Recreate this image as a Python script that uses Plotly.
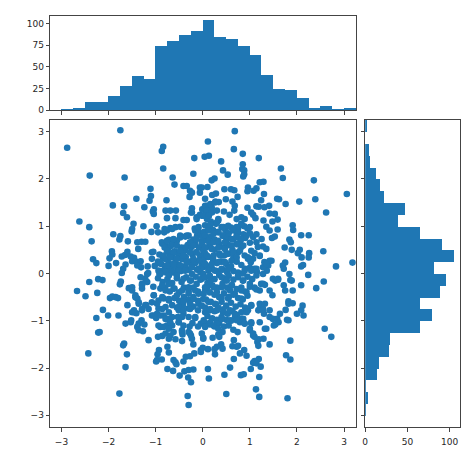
# scatter with marginal histograms

import plotly.graph_objects as go

bin_centres = [-3.125, -2.875, -2.625, -2.375, -2.125, -1.875, -1.625, -1.375, -1.125, -0.875, -0.625, -0.375, -0.125,
               0.125, 0.375, 0.625, 0.875, 1.125, 1.375, 1.625, 1.875, 2.125, 2.375, 2.625, 2.875, 3.125]
x_counts = [0, 1, 3, 9, 9, 17, 28, 40, 36, 75, 80, 87, 92, 104, 85, 82, 74, 64, 41, 24, 23, 14, 3, 5, 1, 2]
y_counts = [0, 1, 4, 1, 14, 17, 28, 30, 65, 79, 65, 89, 96, 82, 106, 91, 65, 39, 47, 22, 18, 13, 6, 5, 0, 2]

x_ticks = [-3, -2, -1, 0, 1, 2, 3]
count_ticks_top = [0, 25, 50, 75, 100]
count_ticks_right = [0, 50, 100]

scatter_points = [
    # upper left
    (-1.75, 3.03), (-2.88, 2.66), (-0.84, 2.68), (-0.87, 2.59), (-0.18, 2.44), (-2.40, 2.07), (-1.66, 2.03),
    (-0.84, 2.22), (-0.64, 2.03), (-0.20, 2.11), (-0.60, 1.88), (-1.11, 1.79), (-1.10, 1.64), (-1.13, 1.54),
    (-1.41, 1.58), (-0.77, 1.55), (-1.91, 1.44), (-1.67, 1.42), (-1.24, 1.40), (-1.04, 1.36), (-1.06, 1.31),
    (-1.04, 1.26), (-1.69, 1.28), (-1.61, 1.19), (-0.79, 1.33), (-0.69, 1.33), (-0.57, 1.33), (-0.76, 1.17),
    (-0.58, 1.17), (-2.62, 1.10), (-2.41, 0.98), (-2.36, 0.68), (-1.47, 1.05), (-1.50, 0.94), (-1.51, 0.89),
    (-1.26, 1.00), (-0.98, 1.00), (-1.09, 0.88), (-0.95, 0.87), (-1.90, 0.83), (-1.75, 0.79), (-1.77, 0.72),
    (-1.59, 0.68), (-1.39, 0.66), (-1.30, 0.67), (-1.22, 0.67), (-1.37, 0.52), (-0.81, 0.94), (-0.82, 0.87),
    (-0.69, 0.96), (-0.58, 0.98), (-0.48, 0.99), (-0.41, 1.13), (-0.34, 1.13), (-0.41, 1.85), (-0.34, 1.85),
    (-0.27, 1.75), (-0.23, 1.71), (-0.28, 1.62), (-0.06, 1.82), (-0.06, 1.71), (-0.23, 1.38), (-0.25, 1.29),
    (-0.13, 1.19), (-0.06, 1.24), (-1.93, 0.47), (-1.98, 0.32), (-1.92, 0.40), (-2.33, 0.30), (-2.26, 0.22),
    (-2.00, 0.16), (-1.84, 0.22), (-1.72, 0.36), (-1.65, 0.39), (-1.60, 0.46), (-1.53, 0.36), (-1.46, 0.33),
    (-1.50, 0.26), (-1.43, 0.26), (-1.32, 0.26), (-1.39, 0.17), (-1.64, 0.19), (-1.72, 0.01), (-1.69, 0.10),
    (-1.31, 0.13), (-1.17, 0.15), (-1.16, 0.01), (-0.92, -0.01), (-1.08, 0.45), (-1.05, 0.46), (-1.08, 0.31),
    (-1.02, 0.16), (-0.93, 0.22), (-0.86, 0.63), (-0.79, 0.63), (-0.72, 0.71),
    (-0.81, 0.55), (-0.74, 0.52), (-0.68, 0.58), (-0.63, 0.62), (-0.55, 0.69), (-0.48, 0.80), (-0.37, 0.78),
    (-0.30, 0.80), (-0.20, 0.72), (-0.12, 0.80), (-0.05, 0.85), (-0.10, 0.93), (-0.17, 0.95), (-0.92, 0.40),
    (-0.85, 0.35), (-0.78, 0.30), (-0.71, 0.42), (-0.65, 0.35), (-0.60, 0.47), (-0.52, 0.40), (-0.45, 0.55),
    (-0.38, 0.48), (-0.32, 0.60), (-0.25, 0.55), (-0.16, 0.62), (-0.08, 0.55), (-0.02, 0.68), (-0.95, 0.25),
    (-0.88, 0.20), (-0.80, 0.15), (-0.72, 0.22), (-0.66, 0.12), (-0.58, 0.25), (-0.50, 0.18), (-0.44, 0.30),
    (-0.36, 0.35), (-0.28, 0.25), (-0.22, 0.40), (-0.14, 0.45), (-0.06, 0.38), (-0.88, 0.05), (-0.78, 0.02),
    (-0.70, 0.08), (-0.62, 0.02), (-0.54, 0.10), (-0.46, 0.05), (-0.38, 0.15), (-0.30, 0.08), (-0.24, 0.16),
    (-0.16, 0.22), (-0.08, 0.28), (-0.02, 0.18), (-0.12, 0.08), (-0.05, 0.02),
    (-0.76, 0.91), (-0.65, 0.94), (-0.87, 0.66), (-0.76, 0.69), (-0.62, 0.73), (-0.48, 0.76), (-0.34, 0.80),
    (-0.16, 0.91), (-0.09, 0.98), (-0.13, 1.15), (-0.23, 1.29), (-0.01, 1.36), (-0.02, 1.22), (-0.27, 0.66),
    (-0.13, 0.73), (0.01, 0.80), (-0.20, 0.59), (-0.02, 0.62), (-0.37, 0.55), (-0.55, 0.59), (-0.76, 0.48),
    (-0.62, 0.45), (-0.48, 0.48), (-0.69, 0.34), (-0.83, 0.38), (-0.55, 0.31), (-0.41, 0.38), (-0.27, 0.45),
    (-0.13, 0.45), (0.01, 0.48), (-0.90, 0.24), (-0.76, 0.17), (-0.62, 0.20), (-0.48, 0.17), (-0.34, 0.24),
    (-0.20, 0.31), (-0.06, 0.27), (0.05, 0.34), (-0.94, 0.06), (-0.79, 0.03), (-0.65, 0.03), (-0.51, 0.06),
    (-0.37, 0.06), (-0.23, 0.13), (-0.09, 0.10), (0.01, 0.13), (-0.23, -0.01), (0.01, -0.01),
    # upper right
    (0.68, 3.01), (0.11, 2.79), (0.66, 2.63), (0.85, 2.53), (0.04, 2.47), (0.13, 2.49), (1.19, 2.44), (0.39, 2.37),
    (0.85, 2.31), (0.84, 2.21), (0.88, 2.18), (0.86, 2.05), (0.88, 2.10), (0.43, 2.18), (0.53, 2.09), (1.66, 2.22),
    (1.70, 2.02), (0.25, 2.01), (0.19, 1.97), (2.36, 1.97), (1.21, 1.93), (1.29, 1.94), (0.96, 1.82), (0.95, 1.74),
    (1.14, 1.80), (1.08, 1.75), (0.10, 1.83), (-0.02, 1.82), (0.46, 1.78), (0.60, 1.78), (0.67, 1.76), (0.74, 1.62),
    (1.30, 1.68), (0.28, 1.69), (0.20, 1.66), (3.06, 1.68), (0.05, 1.58), (0.49, 1.57), (1.24, 1.55), (1.58, 1.58),
    (1.62, 1.57), (2.05, 1.52), (2.39, 1.57), (1.76, 1.47), (0.63, 1.52), (0.68, 1.43), (0.27, 1.52), (0.34, 1.51),
    (2.62, 1.29), (0.95, 1.39), (1.14, 1.42), (1.19, 1.41), (1.31, 1.40), (1.41, 1.43), (0.08, 1.43), (0.19, 1.40),
    (0.04, 1.38), (0.45, 1.31), (0.57, 1.24), (0.67, 1.33), (1.03, 1.29), (1.07, 1.24), (1.12, 1.17), (1.42, 1.27),
    (1.53, 1.26), (1.29, 1.12), (1.48, 1.10), (1.59, 1.14), (1.35, 0.99), (1.42, 0.91), (1.59, 0.93), (1.91, 1.02),
    (1.92, 0.92), (2.09, 0.81), (2.25, 0.81), (1.47, 0.75), (1.53, 0.78), (1.84, 0.72), (1.87, 0.66), (1.74, 0.55),
    (1.89, 0.50), (2.06, 0.50), (2.02, 0.43), (2.26, 0.43), (2.25, 0.34), (2.10, 0.34), (2.56, 0.47), (2.83, 0.15),
    (3.18, 0.23), (2.09, 0.15), (2.13, 0.18), (1.75, 0.23), (1.70, 0.17), (1.72, 0.10), (2.24, -0.03), (1.84, -0.01),
    (1.49, -0.11), (1.60, -0.11), (1.46, 0.27), (1.31, 0.24), (1.39, 0.17), (1.36, 0.06), (1.28, -0.01), (1.14, 0.66),
    (1.25, 0.73), (1.28, 0.57), (1.17, 0.56), (1.35, 0.52), (1.21, 0.37), (1.10, 0.43), (0.96, 0.31), (1.07, 0.31),
    (1.02, 0.24), (0.89, 0.38), (0.82, 0.56),
    (0.05, 1.25), (0.13, 1.22), (0.20, 1.30), (0.09, 1.15), (0.17, 1.10), (0.28, 1.05), (0.33, 1.12), (0.05, 1.02),
    (0.40, 0.98), (0.48, 0.92), (0.55, 0.85), (0.60, 0.97), (0.68, 0.92), (0.75, 0.95), (0.82, 1.03), (0.88, 1.00),
    (0.95, 0.95), (1.00, 0.85), (0.72, 0.80), (0.65, 0.72), (0.50, 0.70), (0.42, 0.80), (0.33, 0.88), (0.22, 0.92),
    (0.12, 0.95), (0.03, 0.88), (0.00, 0.78), (0.08, 0.70), (0.17, 0.78), (0.25, 0.72), (0.35, 0.62), (0.45, 0.55),
    (0.55, 0.60), (0.63, 0.50), (0.72, 0.62), (0.80, 0.70), (0.90, 0.75), (1.00, 0.65), (0.07, 0.55), (0.15, 0.60),
    (0.25, 0.50), (0.35, 0.42), (0.45, 0.38), (0.55, 0.42), (0.65, 0.33), (0.75, 0.45), (0.05, 0.42), (0.12, 0.35),
    (0.22, 0.30), (0.30, 0.22), (0.40, 0.25), (0.50, 0.20), (0.60, 0.15), (0.72, 0.25), (0.82, 0.18), (0.90, 0.10),
    (1.00, 0.12), (1.10, 0.10), (0.03, 0.22), (0.10, 0.15), (0.20, 0.10), (0.30, 0.05), (0.42, 0.08), (0.52, 0.02),
    (0.65, 0.05), (0.75, 0.02), (0.85, 0.00), (1.15, 0.03),
    (0.05, 1.43), (0.16, 1.47), (0.26, 1.50), (0.09, 1.33), (0.19, 1.29), (0.30, 1.33), (0.02, 1.22), (0.12, 1.22),
    (0.33, 1.15), (0.30, 1.08), (0.16, 1.03), (0.44, 0.98), (0.54, 1.01), (0.72, 1.15), (0.82, 1.19), (0.89, 1.15),
    (0.82, 1.05), (0.72, 0.98), (0.12, 0.91), (0.05, 0.80), (0.23, 0.84), (0.33, 0.87), (0.44, 0.80), (0.54, 0.77),
    (0.65, 0.91), (0.75, 0.87), (0.86, 0.83), (1.00, 0.98), (0.12, 0.69), (0.23, 0.66), (0.33, 0.69), (0.47, 0.66),
    (0.61, 0.73), (0.72, 0.77), (0.82, 0.73), (0.93, 0.80), (1.07, 0.77), (1.14, 0.83), (0.05, 0.55), (0.19, 0.52),
    (0.33, 0.55), (0.47, 0.52), (0.61, 0.59), (0.75, 0.62), (0.86, 0.59), (0.09, 0.38), (0.23, 0.38), (0.37, 0.38),
    (0.51, 0.41), (0.65, 0.45), (0.79, 0.48), (0.72, 0.34), (1.03, 0.48), (0.96, 0.34), (1.21, 0.38), (0.05, 0.20),
    (0.19, 0.20), (0.33, 0.24), (0.47, 0.24), (0.61, 0.27), (0.26, 0.06), (0.40, 0.10), (0.54, 0.10), (0.12, 0.06),
    (0.89, 0.06), (1.03, 0.06), (1.14, 0.10), (1.28, 0.13), (1.42, 0.27), (1.35, 0.20),
    # lower left
    (-2.67, -0.37), (-2.49, -0.48), (-2.41, -0.18), (-2.22, -0.12), (-2.13, -0.14), (-2.24, -0.41), (-1.74, -0.17),
    (-1.76, -0.23), (-1.57, -0.31), (-1.50, -0.29), (-1.97, -0.52), (-1.92, -0.49), (-1.85, -0.50), (-1.80, -0.52),
    (-2.12, -0.77), (-2.26, -0.94), (-2.01, -0.89), (-1.79, -0.89), (-2.22, -1.25), (-2.19, -1.24), (-2.43, -1.69),
    (-1.67, -1.48), (-1.69, -1.52), (-1.61, -1.71), (-1.64, -1.98), (-1.77, -2.54), (-0.32, -2.59), (-0.30, -2.78),
    (-0.25, -2.30), (-0.31, -2.20), (-0.49, -2.16), (-0.63, -2.06), (-0.75, -2.02), (-0.39, -2.07), (-0.30, -2.04),
    (-0.20, -2.03), (-1.15, -1.41), (-0.75, -1.55), (-0.72, -1.67), (-0.93, -1.62), (-0.96, -1.71), (-0.97, -1.83),
    (-0.87, -1.82), (-0.99, -1.86), (-0.62, -1.83), (-0.58, -1.88), (-0.56, -1.92), (-0.41, -1.86), (-0.36, -1.76),
    (-0.27, -1.75), (-0.18, -1.69), (-0.04, -1.62), (-0.20, -1.50), (-0.04, -1.66), (-0.44, -1.43), (-0.58, -1.39),
    (-0.72, -1.38), (-0.95, -1.34), (-0.86, -1.32), (-0.79, -1.27), (-0.69, -1.31), (-0.62, -1.24), (-0.90, -1.13),
    (-0.76, -1.10), (-0.65, -1.10), (-0.44, -1.24), (-0.43, -1.29), (-0.30, -1.24), (-0.25, -1.31), (-0.23, -1.38),
    (-1.64, -1.06), (-1.53, -1.03), (-1.52, -0.99), (-1.36, -1.06), (-1.39, -1.13), (-1.36, -1.20), (-1.27, -1.22),
    (-1.30, -0.99), (-1.24, -1.08), (-1.60, -0.67), (-1.46, -0.78), (-1.41, -0.84), (-1.50, -0.82), (-1.29, -0.78),
    (-1.20, -0.67), (-1.15, -0.75), (-1.39, -0.53), (-1.36, -0.64), (-1.43, -0.46), (-1.29, -0.22), (-1.18, -0.18),
    (-1.29, -0.32), (-1.22, -0.11), (-1.08, -0.89), (-0.97, -0.85), (-0.99, -0.94), (-0.83, -0.89), (-0.76, -0.96),
    (-0.65, -0.92), (-1.04, -0.46), (-0.94, -0.57), (-0.83, -0.53), (-0.72, -0.57), (-0.79, -0.71), (-0.94, -0.74),
    (-0.65, -0.67), (-0.53, -0.92), (-0.51, -1.03), (-0.41, -1.10), (-0.51, -0.78), (-0.41, -0.85), (-0.30, -0.74),
    (-0.16, -0.94), (-0.04, -1.06),
    (-0.95, -0.10), (-0.85, -0.18), (-0.75, -0.12), (-0.65, -0.20), (-0.55, -0.10), (-0.45, -0.18), (-0.35, -0.08),
    (-0.25, -0.15), (-0.15, -0.07), (-0.05, -0.13), (-1.05, -0.28), (-0.90, -0.32), (-0.80, -0.30), (-0.70, -0.38),
    (-0.60, -0.32), (-0.50, -0.40), (-0.40, -0.30), (-0.30, -0.38), (-0.20, -0.30), (-0.10, -0.38), (-0.60, -0.52),
    (-0.50, -0.58), (-0.40, -0.50), (-0.30, -0.56), (-0.20, -0.50), (-0.10, -0.58), (-0.55, -0.72), (-0.42, -0.68),
    (-0.20, -0.70), (-0.10, -0.78), (-0.30, -0.92), (-0.22, -1.05), (-0.10, -1.12), (-0.28, -1.12),
    (-1.32, -0.08), (-1.18, -0.01), (-1.29, -0.25), (-1.50, -0.36), (-1.43, -0.50), (-1.36, -0.61), (-1.22, -0.67),
    (-1.08, -0.61), (-1.04, -0.46), (-0.97, -0.64), (-1.46, -0.82), (-1.29, -0.75), (-0.86, -0.25), (-0.79, -0.36),
    (-0.72, -0.22), (-0.62, -0.32), (-0.55, -0.46), (-0.86, -0.50), (-0.72, -0.54), (-0.44, -0.36), (-0.30, -0.43),
    (-0.20, -0.54), (-0.09, -0.43), (0.01, -0.54), (-0.41, -0.60), (-0.27, -0.64), (-0.09, -0.64), (-0.51, -0.71),
    (-0.41, -0.78), (-0.27, -0.75), (-0.86, -0.75), (-0.72, -0.82), (-1.04, -0.89), (-0.90, -0.89), (-0.79, -0.96),
    (-0.69, -1.03), (-0.51, -1.03), (-0.44, -0.92), (-0.16, -0.92), (-0.02, -0.68), (0.05, -0.82), (-0.55, -0.04),
    (-0.41, -0.11), (-0.27, -0.15), (-0.13, -0.22), (-0.02, -0.11), (0.05, -0.29), (-0.72, -0.04), (-0.90, -0.01),
    (-0.30, -0.29), (-0.16, -0.36), (-0.94, -1.10), (-0.83, -1.13), (-0.72, -1.17), (-0.44, -1.20), (-0.27, -1.27),
    (-0.02, -1.27), (0.01, -1.38),
    # lower right
    (2.57, -0.17), (2.41, -0.31), (2.09, -0.25), (1.91, -0.36), (1.72, -0.25), (1.75, -0.36), (1.54, -0.15),
    (1.60, -0.13), (1.86, -0.14), (1.89, -0.15), (1.48, -0.46), (1.42, -0.36), (1.32, -0.24), (1.21, -0.36),
    (1.14, -0.34), (1.24, -0.22), (1.82, -0.59), (1.91, -0.63), (1.82, -0.64), (2.12, -0.68), (2.09, -0.78),
    (2.00, -0.85), (2.14, -0.89), (1.76, -0.77), (1.64, -0.85), (1.79, -0.98), (1.82, -0.99), (1.58, -0.96),
    (1.61, -1.03), (1.51, -1.10), (1.54, -1.08), (2.59, -1.17), (2.73, -1.34), (1.86, -1.42), (1.42, -1.50),
    (1.77, -1.73), (1.86, -1.82), (1.19, -1.81), (1.10, -1.85), (1.07, -1.89), (1.14, -1.90), (1.23, -1.97),
    (1.02, -2.02), (1.20, -2.19), (0.81, -2.15), (0.87, -2.13), (0.58, -1.99), (0.46, -2.14), (0.11, -2.02),
    (0.13, -2.22), (0.66, -1.81), (1.13, -2.45), (1.20, -2.61), (1.80, -2.64), (0.50, -2.55), (0.26, -1.71),
    (0.93, -1.74), (0.88, -1.62), (0.79, -1.69), (0.63, -1.54), (0.72, -1.55), (0.75, -1.53), (0.39, -1.50),
    (0.42, -1.59), (0.30, -1.55), (0.25, -1.60), (0.11, -1.60), (0.00, -1.57), (1.16, -1.45), (1.19, -1.39),
    (1.29, -1.38), (1.18, -1.53), (0.66, -1.41), (0.35, -1.34), (0.21, -1.36), (0.01, -1.36), (0.65, -1.19),
    (0.74, -1.24), (0.42, -1.24), (0.33, -1.29), (1.07, -1.31), (1.00, -1.20), (1.10, -1.34), (1.32, -1.17),
    (1.35, -1.17), (1.21, -1.03), (1.03, -1.06), (0.89, -1.06), (0.79, -1.03), (0.82, -0.96), (0.96, -0.78),
    (1.03, -0.67), (1.21, -0.64), (1.21, -0.74), (1.32, -0.64), (1.28, -0.78), (1.42, -0.78), (1.42, -0.92),
    (1.30, -0.85), (1.49, -0.96),
    (0.05, -0.08), (0.15, -0.05), (0.25, -0.12), (0.35, -0.03), (0.45, -0.10), (0.55, -0.05), (0.65, -0.13),
    (0.75, -0.08), (0.85, -0.15), (0.95, -0.07), (1.05, -0.12), (0.10, -0.20), (0.20, -0.25), (0.30, -0.30),
    (0.42, -0.22), (0.52, -0.30), (0.62, -0.25), (0.72, -0.33), (0.82, -0.30), (0.90, -0.38), (1.00, -0.28),
    (1.10, -0.30), (0.05, -0.35), (0.15, -0.40), (0.25, -0.45), (0.35, -0.50), (0.45, -0.42), (0.55, -0.50),
    (0.65, -0.45), (0.75, -0.52), (0.85, -0.55), (0.95, -0.47), (0.07, -0.55), (0.17, -0.60), (0.28, -0.65),
    (0.40, -0.60), (0.50, -0.68), (0.60, -0.62), (0.70, -0.70), (0.80, -0.65), (0.90, -0.72), (0.05, -0.72),
    (0.15, -0.78), (0.25, -0.80), (0.33, -0.72), (0.43, -0.82), (0.53, -0.85), (0.63, -0.80), (0.73, -0.88),
    (0.10, -0.90), (0.20, -0.95), (0.30, -0.98), (0.40, -0.92), (0.50, -0.98), (0.60, -1.00), (0.68, -0.95),
    (0.05, -1.05), (0.15, -1.08), (0.25, -1.12), (0.35, -1.05), (0.45, -1.12), (0.55, -1.10),
    (0.16, -0.15), (0.23, -0.29), (0.30, -0.39), (0.40, -0.08), (0.51, -0.15), (0.61, -0.25), (0.75, -0.04),
    (0.86, -0.15), (1.00, -0.22), (1.14, -0.04), (1.28, -0.22), (0.68, -0.43), (0.82, -0.36), (0.93, -0.39),
    (0.58, -0.36), (0.40, -0.29), (0.09, -0.29), (0.02, -0.43), (0.12, -0.60), (0.26, -0.64), (0.40, -0.52),
    (0.54, -0.53), (0.82, -0.53), (0.16, -0.75), (0.30, -0.78), (0.44, -0.76), (0.58, -0.78), (0.68, -0.85),
    (0.82, -0.82), (0.93, -0.82), (1.03, -0.68), (0.02, -0.99), (0.16, -1.03), (0.30, -1.06), (0.40, -0.96),
    (0.58, -0.99), (0.72, -0.99), (0.86, -0.96), (0.89, -1.06), (1.03, -1.03), (0.05, -1.13), (0.23, -1.10),
    (0.33, -1.17), (1.00, -1.17), (1.07, -1.27), (1.18, -0.78), (1.28, -0.75),
]

blue = "#1f77b4"
axis_color = "#444444"
text_color = "#262626"

scatter_x = [p[0] for p in scatter_points]
scatter_y = [p[1] for p in scatter_points]

fig = go.Figure()
fig.add_trace(go.Scatter(x=scatter_x, y=scatter_y, mode="markers", xaxis="x", yaxis="y",
                         marker=dict(color=blue, size=6.6, line=dict(width=0))))
fig.add_trace(go.Bar(x=bin_centres, y=x_counts, width=0.25, xaxis="x2", yaxis="y2",
                     marker=dict(color=blue, line=dict(width=0))))
fig.add_trace(go.Bar(x=y_counts, y=bin_centres, width=0.25, orientation="h", xaxis="x3", yaxis="y3",
                     marker=dict(color=blue, line=dict(width=0))))

axis_style = dict(showgrid=False, zeroline=False, showline=True, mirror=True, linecolor=axis_color, linewidth=1,
                  ticks="outside", ticklen=3.5, tickwidth=1, tickcolor=axis_color,
                  tickfont=dict(family="DejaVu Sans", size=9, color=text_color))

fig.update_layout(
    width=474, height=474, autosize=False,
    margin=dict(l=0, r=0, t=0, b=0),
    paper_bgcolor="white", plot_bgcolor="white",
    showlegend=False, bargap=0, hovermode=False,
    xaxis=dict(domain=[47.5 / 474, 355.5 / 474], range=[-3.24, 3.26], tickvals=x_ticks, anchor="y", ticklabelstandoff=2, **axis_style),
    yaxis=dict(domain=[1 - 432 / 474, 1 - 120.8 / 474], range=[-3.256, 3.256], tickvals=x_ticks, anchor="x", **axis_style),
    xaxis2=dict(domain=[47.5 / 474, 355.5 / 474], range=[-3.24, 3.26], tickvals=x_ticks, showticklabels=False, anchor="y2", **axis_style),
    yaxis2=dict(domain=[1 - 111.2 / 474, 1 - 16 / 474], range=[0, 109.2], tickvals=count_ticks_top, anchor="x2", **axis_style),
    xaxis3=dict(domain=[364.5 / 474, 460 / 474], range=[0, 112.5], tickvals=count_ticks_right, anchor="y3", ticklabelstandoff=2, **axis_style),
    yaxis3=dict(domain=[1 - 432 / 474, 1 - 120.8 / 474], range=[-3.256, 3.256], tickvals=x_ticks, showticklabels=False, anchor="x3", **axis_style),
)

# the page's default body margin would shift the whole figure by 8px
fig.write_html("out.html", config={"displayModeBar": False}, post_script="document.body.style.margin = '0';")
